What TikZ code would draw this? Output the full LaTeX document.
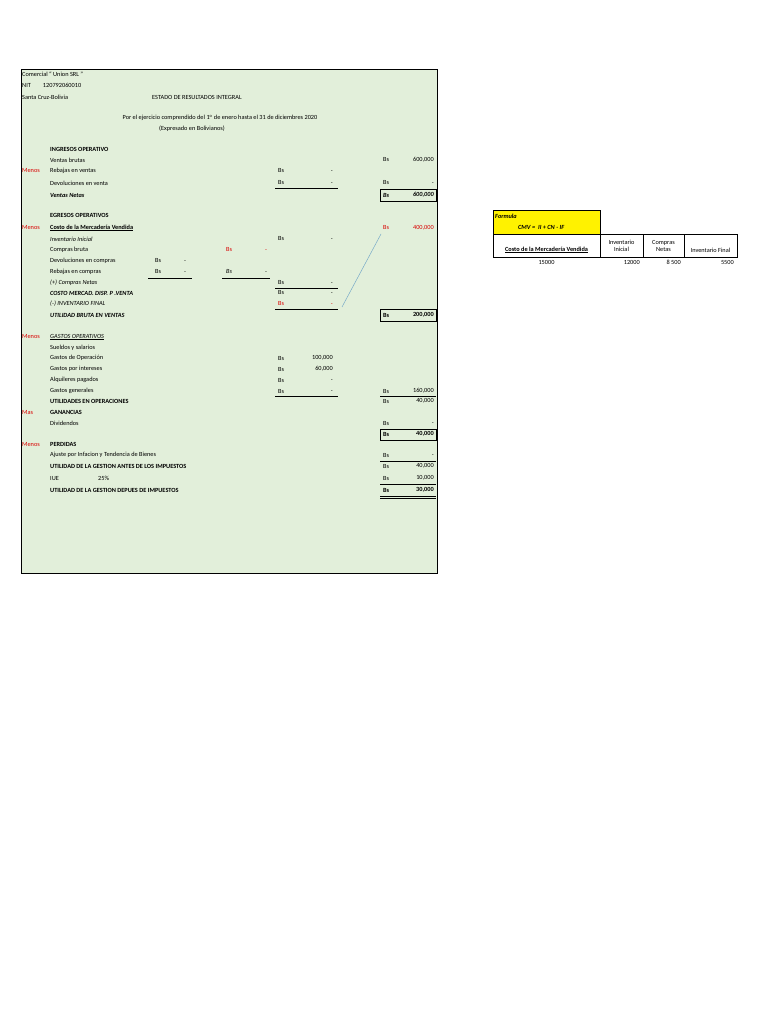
\documentclass[tikz,border=0pt]{standalone}
\usepackage{fontspec}
\setmainfont{Carlito}
\begin{document}
\begin{tikzpicture}[x=1pt,y=-1pt,
 t/.style={anchor=west,inner sep=0pt,font=\fontsize{6.3}{7}\selectfont},
 r/.style={anchor=east,inner sep=0pt,font=\fontsize{6.3}{7}\selectfont},
 c/.style={anchor=center,inner sep=0pt,font=\fontsize{6.3}{7}\selectfont,align=center},
 red/.style={text=red!85!black},
 pl/.style={},
 b/.style={font=\fontsize{6.3}{7}\selectfont\bfseries},
 bi/.style={font=\fontsize{6.3}{7}\selectfont\bfseries\itshape},
 ln/.style={draw=black,line width=0.6pt}]
\useasboundingbox (0,0) rectangle (768,1024);
\fill[white] (0,0) rectangle (768,1024);
\draw[fill={rgb,255:red,226;green,239;blue,218},line width=0.6pt] (21,69) rectangle (437,573);
% header
\node[t] (h1) at (22,74) {Comercial `` Union SRL ''};
\node[t] (h2) at (22,85) {NIT\hspace{12pt}120792060010};
\node[t] (h3) at (22,97) {Santa Cruz-Bolivia};
\node[t] (h4) at (152,97) {ESTADO DE RESULTADOS INTEGRAL};
\node[c] (h5) at (220,118) {Por el ejercicio comprendido del 1\textsuperscript{o} de enero hasta el 31 de diciembres 2020};
\node[c] (h6) at (192,129) {(Expresado en Bolivianos)};
% labels
\foreach \y/\txt/\n in {149/{\bfseries INGRESOS OPERATIVO}/l1,160/Ventas brutas/l2,171/Rebajas en ventas/l3,183/Devoluciones  en venta/l4,195/{\bfseries\itshape Ventas Netas}/l5,215/{\bfseries EGRESOS OPERATIVOS}/l6,228/{\bfseries\underline{Costo de la Mercadería Vendida}}/l7,239/{\itshape Inventario Inicial}/l8,250/Compras bruta/l9,261/Devoluciones en compras/l10,272/Rebajas en compras/l11,283/{\itshape(+) Compras Netas}/l12,293/{\bfseries\itshape COSTO MERCAD. DISP. P .VENTA}/l13,304/{\itshape(-) INVENTARIO FINAL}/l14,315/{\bfseries\itshape UTILIDAD BRUTA EN VENTAS}/l15,337/{\itshape\underline{GASTOS OPERATIVOS}}/l16,348/Sueldos y salarios/l17,358/Gastos de Operación/l18,369/Gastos por intereses/l19,380/Alquileres pagados/l20,391/Gastos generales/l21,401/{\bfseries UTILIDADES EN OPERACIONES}/l22,412/{\bfseries GANANCIAS}/l23,423/Dividendos/l24,444/{\bfseries PERDIDAS}/l25,455/Ajuste por Infacion y Tendencia de Bienes/l26,466/{\bfseries UTILIDAD DE LA GESTION ANTES DE LOS IMPUESTOS}/l27,478/IUE/l28,490/{\bfseries UTILIDAD DE LA GESTION DEPUES DE IMPUESTOS}/l29}
  \node[t] (\n) at (50,\y) {\txt};
\node[t] (pct) at (98,478) {25\%};
\foreach \y/\txt/\n in {171/Menos/m1,228/Menos/m2,337/Menos/m3,412/Mas/m4,444/Menos/m5}
  \node[t,red] (\n) at (22,\y) {\txt};
% col1 / col2
\node[t] (a1) at (155,261) {Bs}; \node[c] (a2) at (185,261) {-};
\node[t] (a3) at (155,272) {Bs}; \node[c] (a4) at (185,272) {-};
\node[t,red] (a5) at (226,250) {Bs}; \node[c,red] (a6) at (266,250) {-};
\node[t] (a7) at (226,272) {\itshape Bs}; \node[c] (a8) at (266,272) {-};
% col3
\foreach \y/\v/\n in {171/-/k1,183/-/k2,239/-/k3,283/-/k4,293/-/k5,358/{100,000}/k7,369/{60,000}/k8,380/-/k9,391/-/k10}{
  \node[t] (\n b) at (278,\y) {Bs}; \node[r] (\n v) at (333,\y) {\v};}
\node[t,red] (k6b) at (278,304) {Bs}; \node[r,red] (k6v) at (333,304) {-};
% col4
\foreach \y/\v/\n/\s in {160/{600,000}/q1/pl,183/-/q2/pl,195/{600,000}/q3/bi,315/{200,000}/q4/b,391/{160,000}/q5/pl,401/{40,000}/q6/pl,423/-/q7/pl,434/{40,000}/q8/b,455/-/q9/pl,466/{40,000}/q10/pl,478/{10,000}/q11/pl,490/{30,000}/q12/b}{
  \node[t,\s] (\n b) at (383,\y) {Bs}; \node[r,\s] (\n v) at (434,\y) {\v};}
\node[t,red] (q0b) at (383,228) {Bs}; \node[r,red] (q0v) at (434,228) {400,000};
% lines
\draw[ln] (275,188)--(338,188);
\draw[ln] (148,278)--(192,278); \draw[ln] (222,278)--(270,278);
\draw[ln] (275,288)--(338,288); \draw[ln] (275,309)--(338,309);
\draw[ln] (275,396)--(338,396); \draw[ln] (380,396)--(436,396);
\draw[ln] (380,189) rectangle (436,201);
\draw[ln] (380,309) rectangle (436,321);
\draw[ln] (380,429) rectangle (436,440);
\draw[ln] (380,461)--(436,461); \draw[ln] (380,484)--(436,484);
\draw[ln] (380,496)--(436,496); \draw[ln] (380,498.5)--(436,498.5);
\coordinate (d1) at (381,234); \coordinate (d2) at (342,307);
\draw[color={rgb,255:red,120;green,170;blue,200},line width=0.5pt] (d1)--(d2);
% right table
\draw[fill=yellow,line width=0.6pt] (493,210) rectangle (600,234);
\node[t] (f1) at (495,216) {\bfseries\itshape Formula};
\node[t] (f2) at (518,227) {\bfseries\itshape CMV =\ \ II + CN - IF};
\draw[line width=0.5pt] (493,234) rectangle (600,257) (600,234) rectangle (643,257) (643,234) rectangle (684,257) (684,234) rectangle (737,257);
\node[c] (g1) at (546.5,250) {\bfseries\underline{Costo de la Mercadería Vendida}};
\node[c] (g2) at (621.5,246) {Inventario\\Inicial};
\node[c] (g3) at (663.5,246) {Compras\\Netas};
\node[c] (g4) at (710.5,250) {Inventario Final};
\node[c] (n1) at (546.5,262) {15000};
\node[r] (n2) at (640,262) {12000};
\node[r] (n3) at (681,262) {8 500};
\node[r] (n4) at (734,262) {5500};
\end{tikzpicture}
\end{document}
